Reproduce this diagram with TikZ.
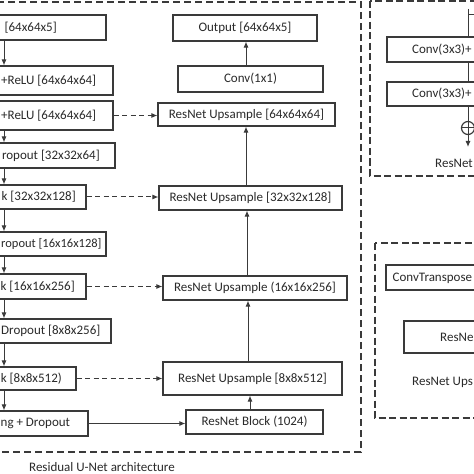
\documentclass[tikz,border=0pt]{standalone}
\usepackage{fontspec}
\setmainfont{Carlito}
\usetikzlibrary{arrows.meta}
\definecolor{linec}{HTML}{3A3A3A}
\definecolor{textc}{HTML}{2A2A2A}
\tikzset{
  box/.style={draw=linec, line width=1.1bp, inner sep=0pt, text=textc},
  lbl/.style={inner sep=0pt, text=textc},
  arr/.style={draw=linec, line width=1bp, -{Latex[length=6bp,width=5bp]}},
  darr/.style={arr, dash pattern=on 5bp off 3.5bp},
  plain/.style={draw=linec, line width=1bp},
  bigframe/.style={draw=linec, line width=1.8bp, dash pattern=on 7bp off 4bp},
  smallframe/.style={draw=linec, line width=1.1bp, dash pattern=on 7bp off 3.5bp},
}
\newcommand\bx[6]{\node[box, minimum width={((#4)-(#2))*1bp}, minimum height={((#5)-(#3))*1bp}] (#1) at ({((#2)+(#4))/2},{((#3)+(#5))/2}) {#6};}
\begin{document}
\begin{tikzpicture}[x=1bp,y=-1bp, font=\fontsize{13bp}{15bp}\selectfont]
\useasboundingbox (0,0) rectangle (474,474);
\clip (0,0) rectangle (474,474);
\fill[white] (0,0) rectangle (474,474);
% big U-Net frame
\draw[bigframe] (-10,2) rectangle (361,452);
\node[lbl] (cap) at (102,467.5) {Residual U-Net architecture};
% left column (encoder)
\bx{L1}{-10}{15}{106}{40}{}
\bx{L2}{-10}{66}{113}{95}{}
\bx{L3}{-10}{101}{113}{130}{}
\bx{L4}{-10}{143}{115}{168}{}
\bx{L5}{-10}{185}{86}{209}{}
\bx{L6}{-10}{232}{106}{256}{}
\bx{L7}{-10}{274}{86}{299}{}
\bx{L8}{-10}{319}{111}{343}{}
\bx{L9}{-10}{367}{76}{390}{}
\bx{L10}{-10}{411}{88}{436}{}
\node[lbl, anchor=east] (T1) at (57,27.5) {[64x64x5]};
\node[lbl, anchor=west] (T2) at (1,80.5) {+ReLU [64x64x64]};
\node[lbl, anchor=west] (T3) at (1,115.5) {+ReLU [64x64x64]};
\node[lbl, anchor=east] (T4) at (100,155.5) {ropout [32x32x64]};
\node[lbl, anchor=east] (T5) at (76,197) {k [32x32x128]};
\node[lbl, anchor=west, font=\fontsize{12.5bp}{15bp}\selectfont] (T6) at (1,244) {ropout [16x16x128]};
\node[lbl, anchor=east] (T7) at (75,286.5) {k [16x16x256]};
\node[lbl, anchor=west] (T8) at (1,331) {Dropout [8x8x256]};
\node[lbl, anchor=east] (T9) at (62,378.5) {k [8x8x512)};
\node[lbl, anchor=west] (T10) at (0.5,423.5) {ng + Dropout};
% right column (decoder)
\bx{OUT}{173}{15}{317}{41}{Output [64x64x5]}
\bx{C11}{178}{66}{323}{92}{Conv(1x1)}
\bx{U64}{158}{103}{335}{126}{ResNet Upsample [64x64x64]}
\bx{U32}{159}{186}{342}{210}{ResNet Upsample [32x32x128]}
\bx{U16}{163}{276}{347}{300}{ResNet Upsample (16x16x256]}
\bx{U8}{163}{362}{342}{395}{ResNet Upsample [8x8x512]}
\bx{RB}{186}{410}{323}{434}{ResNet Block (1024)}
% encoder down arrows
\draw[arr] (4,0 |- L1.south) -- (4,0 |- L2.north);
\draw[arr] (4,0 |- L3.south) -- (4,0 |- L4.north);
\draw[arr] (4,0 |- L4.south) -- (4,0 |- L5.north);
\draw[arr] (4,0 |- L5.south) -- (4,0 |- L6.north);
\draw[arr] (4,0 |- L6.south) -- (4,0 |- L7.north);
\draw[arr] (4,0 |- L7.south) -- (4,0 |- L8.north);
\draw[arr] (4,0 |- L8.south) -- (4,0 |- L9.north);
\draw[arr] (4,0 |- L9.south) -- (4,0 |- L10.north);
% skip connections
\draw[darr] (L3.east) -- (L3.east -| U64.west);
\draw[darr] (L5.east) -- (L5.east -| U32.west);
\draw[darr] (L7.east) -- (L7.east -| U16.west);
\draw[darr] (L9.east) -- (L9.east -| U8.west);
\draw[arr] (L10.east) -- (L10.east -| RB.west);
% decoder up arrows
\draw[arr] (250,0 |- RB.north) -- (250,0 |- U8.south);
\draw[arr] (248,0 |- U8.north) -- (248,0 |- U16.south);
\draw[arr] (247,0 |- U16.north) -- (247,0 |- U32.south);
\draw[arr] (246,0 |- U32.north) -- (246,0 |- U64.south);
\draw[arr] (246,0 |- C11.north) -- (246,0 |- OUT.south);
% ResNet block frame (top right)
\draw[smallframe] (370,1) rectangle (495,176);
\bx{C1}{387}{37}{495}{62}{}
\bx{C2}{387}{82}{495}{106}{}
\node[lbl, anchor=west] (C1t) at (412,49.5) {Conv(3x3)+};
\node[lbl, anchor=west] (C2t) at (412,94) {Conv(3x3)+};
\node[draw=linec, line width=1.2bp, circle, minimum size=13bp, inner sep=0pt, text=textc] (plus) at (468,128) {};
\draw[plain] (plus.north) -- (plus.south);
\draw[plain] (plus.west) -- (plus.east);
\coordinate (rin) at (468,9);
\coordinate (br) at (468,15);
\coordinate (brE) at (495,15);
\coordinate (rout) at (468,147);
\draw[plain] (rin) -- (468,0 |- C1.north);
\draw[plain] (br) -- (brE);
\draw[plain] (468,0 |- C1.south) -- (468,0 |- C2.north);
\draw[plain] (468,0 |- C2.south) -- (plus.north);
\draw[arr] (plus.south) -- (rout);
\node[lbl, anchor=west] (rbcap) at (435,163) {ResNet};
% ResNet Upsample frame (bottom right)
\draw[smallframe] (375,243) rectangle (495,418);
\bx{CT}{386}{265}{495}{290}{}
\bx{RN}{404}{321}{495}{353}{}
\node[lbl, anchor=west] (CTt) at (392.5,278) {ConvTranspose};
\node[lbl, anchor=west] (RNt) at (440,337) {ResNe};
\node[lbl, anchor=west] (rucap) at (412,382) {ResNet Ups};
\end{tikzpicture}
\end{document}
